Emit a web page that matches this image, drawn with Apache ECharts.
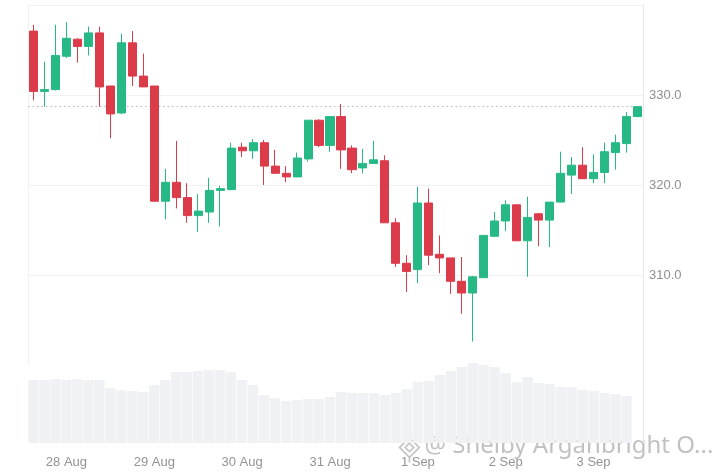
<!DOCTYPE html>
<html>
<head>
<meta charset="utf-8">
<script src="https://cdn.jsdelivr.net/npm/echarts@6/dist/echarts.min.js"></script>
<style>
html,body{margin:0;padding:0;background:#fff;}
#c{width:720px;height:473px;}
</style>
</head>
<body>
<div id="c"></div>
<script>
const categories = [
 '27 Aug 15:00','27 Aug 18:00','27 Aug 21:00',
 '28 Aug 00:00','28 Aug 03:00','28 Aug 06:00','28 Aug 09:00','28 Aug 12:00','28 Aug 15:00','28 Aug 18:00','28 Aug 21:00',
 '29 Aug 00:00','29 Aug 03:00','29 Aug 06:00','29 Aug 09:00','29 Aug 12:00','29 Aug 15:00','29 Aug 18:00','29 Aug 21:00',
 '30 Aug 00:00','30 Aug 03:00','30 Aug 06:00','30 Aug 09:00','30 Aug 12:00','30 Aug 15:00','30 Aug 18:00','30 Aug 21:00',
 '31 Aug 00:00','31 Aug 03:00','31 Aug 06:00','31 Aug 09:00','31 Aug 12:00','31 Aug 15:00','31 Aug 18:00','31 Aug 21:00',
 '1 Sep 00:00','1 Sep 03:00','1 Sep 06:00','1 Sep 09:00','1 Sep 12:00','1 Sep 15:00','1 Sep 18:00','1 Sep 21:00',
 '2 Sep 00:00','2 Sep 03:00','2 Sep 06:00','2 Sep 09:00','2 Sep 12:00','2 Sep 15:00','2 Sep 18:00','2 Sep 21:00',
 '3 Sep 00:00','3 Sep 03:00','3 Sep 06:00','3 Sep 09:00','3 Sep 12:00'
];
const openP = [
 337.1,330.4,330.6,334.3,336.2,335.4,336.9,331.0,328.0,335.8,
 332.1,331.0,318.2,320.3,318.6,316.6,317.0,319.4,319.5,324.2,
 323.8,324.7,322.1,321.3,320.9,322.9,327.2,324.4,327.6,324.1,
 321.9,322.4,322.7,315.8,311.3,310.6,318.0,312.3,311.9,309.3,
 308.0,309.7,314.3,316.0,317.8,313.8,316.8,316.1,318.1,321.1,
 322.2,320.7,321.4,323.6,324.6,327.6
];
const closeP = [
 330.4,330.6,334.4,336.3,335.4,336.9,330.9,327.9,335.8,332.1,
 330.9,318.2,320.3,318.6,316.6,317.1,319.4,319.6,324.1,323.8,
 324.7,322.1,321.3,320.9,323.0,327.2,324.4,327.6,323.9,321.7,
 322.4,322.8,315.8,311.3,310.4,318.0,312.2,311.9,309.3,308.0,
 309.8,314.4,316.0,317.8,313.8,316.4,316.1,318.1,321.3,322.2,
 320.7,321.4,323.7,324.7,327.6,328.7
];
const lowP = [
 329.4,328.7,330.5,334.1,333.6,334.4,328.7,325.2,327.9,331.0,
 330.9,318.2,316.2,317.4,315.8,314.8,315.8,315.4,319.4,323.1,
 322.9,320.0,321.3,320.3,320.9,322.6,324.2,323.7,321.8,321.3,
 321.3,322.4,315.8,310.9,308.1,309.1,311.1,310.2,307.9,305.7,
 302.6,309.7,314.3,314.9,313.8,309.8,313.2,313.1,318.1,319.0,
 320.7,320.2,320.2,321.7,323.6,327.6
];
const highP = [
 337.8,333.7,337.8,338.1,336.3,337.6,337.6,331.0,336.8,337.1,
 334.6,331.0,321.8,324.9,320.2,319.0,320.8,319.9,324.7,324.7,
 325.1,325.0,323.9,322.1,323.6,327.2,327.3,327.6,329.0,324.4,
 324.0,324.9,323.3,316.3,312.2,319.8,319.6,314.4,311.9,312.0,
 309.9,314.4,317.0,318.3,317.8,318.7,316.9,318.1,323.7,323.1,
 324.2,323.4,324.7,325.6,328.1,328.7
];
const volume = [
 63,63,64,63,64,63,63,55,53,52,
 51,58,63,71,71,72,73,73,71,63,
 58,48,45,42,43,44,44,46,51,50,
 50,50,48,50,54,61,62,68,72,76,
 80,78,76,70,61,66,60,59,56,56,
 53,52,50,49,47,0
];
const priceTicks = [310, 320, 330];
const watermark = '@ Shelby Arganbright O...';

const candleData = openP.map((o, i) => [o, closeP[i], lowP[i], highP[i]]);
const lastClose = closeP[closeP.length - 1];
const UP = '#26b985', DOWN = '#dc3b4a';
const WM = 'rgba(178,178,178,0.8)';

const chart = echarts.init(document.getElementById('c'), null, {renderer: 'canvas'});
chart.setOption({
  animation: false,
  backgroundColor: '#ffffff',
  grid: [
    {left: 28, right: 77, top: 5, height: 360},
    {left: 28, right: 77, top: 343, height: 100}
  ],
  xAxis: [
    {type: 'category', gridIndex: 0, data: categories, boundaryGap: true,
     axisLine: {show: false}, axisTick: {show: false}, axisLabel: {show: false}, splitLine: {show: false}},
    {type: 'category', gridIndex: 1, data: categories, boundaryGap: true,
     axisLine: {show: false}, axisTick: {show: false}, splitLine: {show: false},
     axisLabel: {
       interval: (idx, val) => val.endsWith('00:00'),
       formatter: (val) => val.split(' ').slice(0, 2).join(' '),
       color: '#939393', fontSize: 13, fontFamily: 'Liberation Sans, Arial, sans-serif', margin: 13
     }}
  ],
  yAxis: [
    {type: 'value', gridIndex: 0, position: 'right', min: 300, max: 340, interval: 10,
     axisLine: {show: true, lineStyle: {color: '#ebebeb'}}, axisTick: {show: false},
     axisLabel: {
       color: '#8f8f8f', fontSize: 13, fontFamily: 'Liberation Sans, Arial, sans-serif', margin: 6,
       formatter: (v) => priceTicks.includes(v) ? v.toFixed(1) : ''
     },
     splitLine: {show: true, lineStyle: {color: ['transparent', '#f1f1f1', '#f1f1f1', '#f1f1f1', '#f1f1f1'], width: 1}}},
    {type: 'value', gridIndex: 1, position: 'right', min: 0, max: 100,
     axisLine: {show: true, lineStyle: {color: '#ebebeb'}}, axisTick: {show: false},
     axisLabel: {show: false}, splitLine: {show: false}},
    {type: 'value', gridIndex: 0, position: 'left', min: 300, max: 340,
     axisLine: {show: true, lineStyle: {color: '#f1f1f1'}}, axisTick: {show: false},
     axisLabel: {show: false}, splitLine: {show: false}}
  ],
  series: [
    {
      type: 'bar', xAxisIndex: 1, yAxisIndex: 1, data: volume,
      barCategoryGap: '6%',
      itemStyle: {color: '#eff1f4'},
      silent: true
    },
    {
      type: 'candlestick', xAxisIndex: 0, yAxisIndex: 0, data: candleData,
      barWidth: '78%',
      itemStyle: {color: UP, color0: DOWN, borderColor: UP, borderColor0: DOWN, borderWidth: 1},
      markLine: {
        silent: true, symbol: ['none', 'none'], label: {show: false},
        lineStyle: {color: '#b8b8b8', type: [1.5, 3], width: 1.2},
        data: [{yAxis: lastClose}],
        z: 1
      }
    }
  ],
  graphic: [
    {
      type: 'group', left: 396, top: 434,
      children: [
        {type: 'rect', shape: {x: -7, y: -7, width: 14, height: 14}, x: 12, y: 12, rotation: Math.PI/4,
         style: {fill: 'none', stroke: WM, lineWidth: 1.6}},
        {type: 'rect', shape: {x: -3, y: -3, width: 6, height: 6}, x: 12, y: 12, rotation: Math.PI/4,
         style: {fill: 'none', stroke: WM, lineWidth: 1.6}},
        {type: 'line', shape: {x1: 12, y1: 22, x2: 12, y2: 27}, style: {stroke: WM, lineWidth: 1.6}}
      ]
    },
    {
      type: 'text', left: 424, top: 434,
      style: {text: watermark, fill: WM, fontSize: 24,
              fontFamily: 'Noto Sans, Open Sans, sans-serif',
              stroke: 'rgba(255,255,255,0.7)', lineWidth: 1}
    }
  ]
});
</script>
</body>
</html>
